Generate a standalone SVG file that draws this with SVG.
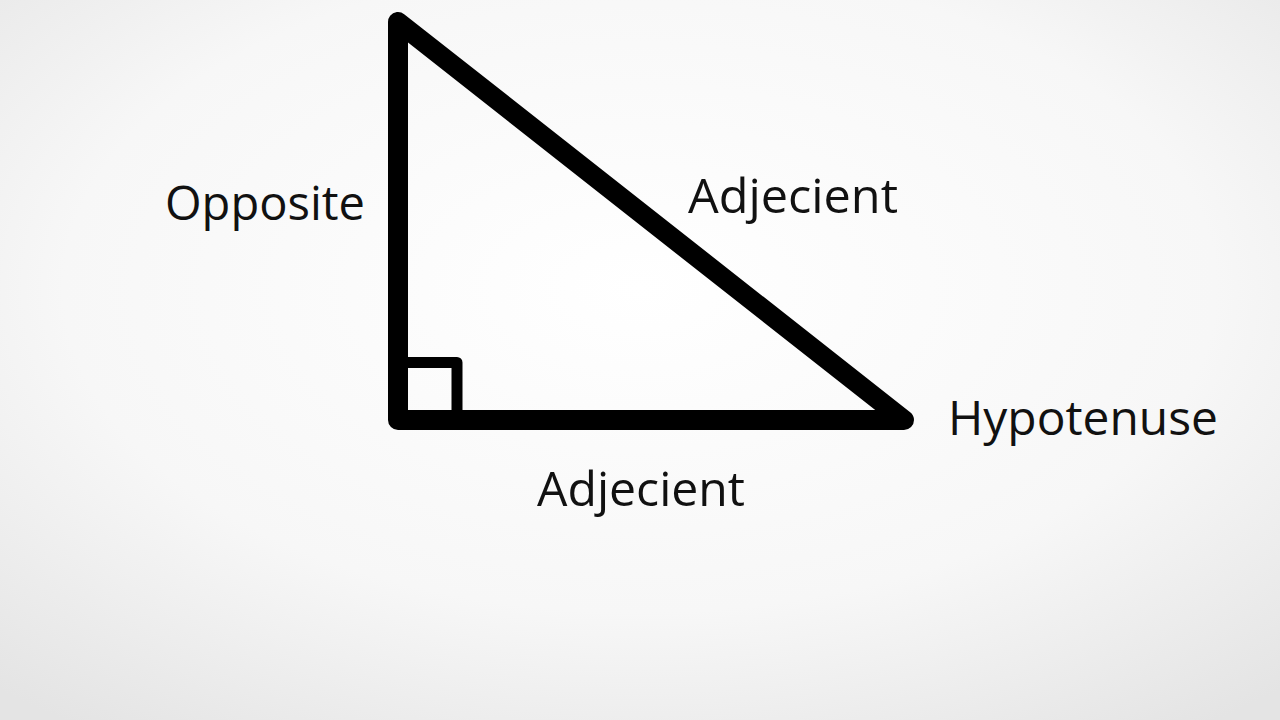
<svg xmlns="http://www.w3.org/2000/svg" width="1280" height="720" viewBox="0 0 1280 720">
<defs>
<radialGradient id="bg" cx="50%" cy="40%" r="75%">
<stop offset="0" stop-color="#ffffff"/>
<stop offset="0.6" stop-color="#f7f7f7"/>
<stop offset="1" stop-color="#e4e4e4"/>
</radialGradient>
<style>
.lbl{font-family:"Open Sans","Noto Sans",sans-serif;font-size:48px;fill:#111;}
.edge{fill:none;stroke:#000;stroke-linejoin:round;stroke-linecap:round;}
</style>
</defs>
<rect width="1280" height="720" fill="url(#bg)"/>
<g id="triangle">
<path class="edge" stroke-width="20" d="M398,22 L398,420 L904,420 Z"/>
<path class="edge" stroke-width="11" stroke-linejoin="miter" stroke-linecap="butt" d="M404,362.5 L457,362.5 L457,414"/>
</g>
<g id="label-opposite"><text class="lbl" x="165" y="220" textLength="200" lengthAdjust="spacingAndGlyphs">Opposite</text></g>
<g id="label-adjecient-top"><text class="lbl" x="688" y="213" textLength="210" lengthAdjust="spacingAndGlyphs">Adjecient</text></g>
<g id="label-hypotenuse"><text class="lbl" x="948" y="435" textLength="270" lengthAdjust="spacingAndGlyphs">Hypotenuse</text></g>
<g id="label-adjecient-bottom"><text class="lbl" x="537" y="506" textLength="208" lengthAdjust="spacingAndGlyphs">Adjecient</text></g>
</svg>
